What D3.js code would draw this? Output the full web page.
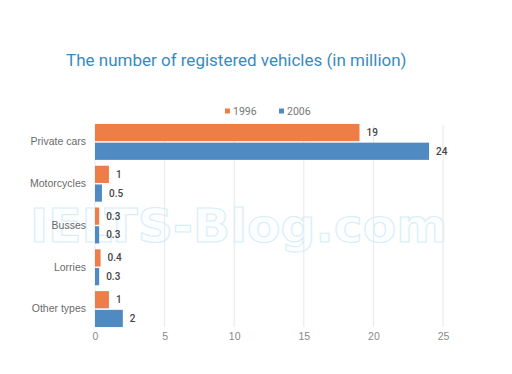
<!DOCTYPE html>
<html>
<head>
<meta charset="utf-8">
<script src="https://cdn.jsdelivr.net/npm/d3@7"></script>
<style>
  body { margin: 0; background: #fff; }
  svg { display: block; font-family: Roboto, "Open Sans", sans-serif; }
</style>
</head>
<body>
<script>
"use strict";
// chart data
const categories = ["Private cars", "Motorcycles", "Busses", "Lorries", "Other types"];
const years = ["1996", "2006"];
const values1996 = [19, 1, 0.3, 0.4, 1];
const values2006 = [24, 0.5, 0.3, 0.3, 2];
const valueLabels1996 = ["19", "1", "0.3", "0.4", "1"];
const valueLabels2006 = ["24", "0.5", "0.3", "0.3", "2"];
const xTicks = [0, 5, 10, 15, 20, 25];

const width = 512, height = 374;
const colors = {"1996": "#ee7d48", "2006": "#4f8ac3"};

const svg = d3.select("body").append("svg")
    .attr("width", width)
    .attr("height", height);

let x = d3.scaleLinear().domain([0, 25]).range([95, 443]);

let y = d3.scaleBand()
    .domain(categories)
    .range([121, 330])
    .paddingInner(0.14)
    .paddingOuter(0.07);

let yInner = d3.scaleBand()
    .domain(years)
    .range([0, y.bandwidth()])
    .paddingInner(0.08);

// watermark (sits behind everything, as in the original)
svg.append("text")
    .attr("x", 30).attr("y", 242)
    .attr("textLength", 417)
    .attr("lengthAdjust", "spacingAndGlyphs")
    .style("font-family", "'DejaVu Sans', sans-serif")
    .style("font-weight", "bold")
    .style("font-size", "46px")
    .attr("fill", "#fcfeff")
    .attr("stroke", "#d8eef7")
    .attr("stroke-width", 1.1)
    .text("IELTS-Blog.com");

// title
svg.append("text")
    .attr("x", 66).attr("y", 66)
    .attr("fill", "#3a8bbd")
    .style("font-size", "17px")
    .text("The number of registered vehicles (in million)");

// gridlines
svg.append("g").attr("class", "grid")
    .selectAll("line")
    .data(xTicks)
    .enter()
    .append("line")
    .attr("x1", d => x(d)).attr("x2", d => x(d))
    .attr("y1", 125).attr("y2", 327)
    .attr("stroke", "#e6e8ea")
    .attr("stroke-width", 1);

// x axis labels
let xAxis = d3.axisBottom(x).tickValues(xTicks).tickSize(0).tickPadding(0);
let gx = svg.append("g")
    .attr("transform", "translate(0,333)")
    .call(xAxis);
gx.select(".domain").remove();
gx.selectAll("text")
    .attr("fill", "#8a8a8a")
    .style("font-size", "10.5px")
    .attr("dy", "0.71em");

// category labels
let yAxis = d3.axisLeft(y).tickSize(0).tickPadding(9);
let gy = svg.append("g")
    .attr("transform", "translate(95,0)")
    .call(yAxis);
gy.select(".domain").remove();
gy.selectAll("text")
    .attr("fill", "#6b6b6b")
    .style("font-size", "10.5px");

// bars
const rows = categories.map((c, i) => ({
    category: c,
    items: [
        {year: "1996", value: values1996[i], label: valueLabels1996[i]},
        {year: "2006", value: values2006[i], label: valueLabels2006[i]}
    ]
}));

let groups = svg.append("g").selectAll("g")
    .data(rows)
    .enter()
    .append("g")
    .attr("transform", d => "translate(0," + y(d.category) + ")");

groups.selectAll("rect")
    .data(d => d.items)
    .enter()
    .append("rect")
    .attr("x", x(0))
    .attr("y", d => yInner(d.year))
    .attr("width", d => x(d.value) - x(0))
    .attr("height", yInner.bandwidth())
    .attr("fill", d => colors[d.year]);

groups.selectAll("text.val")
    .data(d => d.items)
    .enter()
    .append("text")
    .attr("class", "val")
    .attr("x", d => x(d.value) + 7)
    .attr("y", d => yInner(d.year) + yInner.bandwidth() / 2)
    .attr("dy", "0.35em")
    .attr("fill", "#444")
    .style("font-size", "10px")
    .style("font-weight", "500")
    .text(d => d.label);

// legend
const legendX = [225, 279];
let legend = svg.append("g").selectAll("g")
    .data(years)
    .enter()
    .append("g")
    .attr("transform", (d, i) => "translate(" + legendX[i] + ",111)");
legend.append("rect")
    .attr("x", 0).attr("y", -2.5)
    .attr("width", 5).attr("height", 5)
    .attr("fill", d => colors[d]);
legend.append("text")
    .attr("x", 8).attr("dy", "0.35em")
    .attr("fill", "#777")
    .style("font-size", "10.5px")
    .text(d => d);
</script>
</body>
</html>
